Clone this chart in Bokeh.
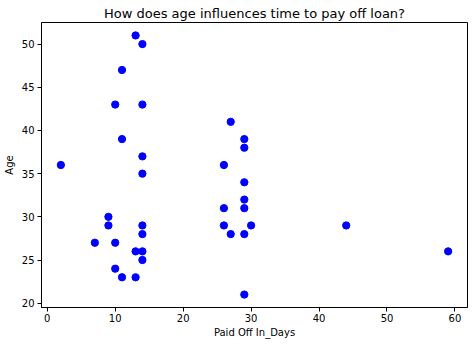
from bokeh.plotting import figure
from bokeh.models import Range1d, FixedTicker, ColumnDataSource
from bokeh.embed import file_html
from bokeh.resources import INLINE

paid_off_days = [2, 7, 9, 9, 10, 10, 10, 11, 11, 11, 13, 13, 13,
                 14, 14, 14, 14, 14, 14, 14, 14,
                 26, 26, 26, 27, 27,
                 29, 29, 29, 29, 29, 29, 29, 30, 44, 59]
age = [36, 27, 30, 29, 43, 27, 24, 47, 39, 23, 51, 26, 23,
       50, 43, 37, 35, 29, 28, 26, 25,
       36, 31, 29, 41, 28,
       39, 38, 34, 32, 31, 28, 21, 29, 29, 26]
x_ticks = [0, 10, 20, 30, 40, 50, 60]
y_ticks = [20, 25, 30, 35, 40, 45, 50]

src = ColumnDataSource(dict(x=paid_off_days, y=age))

FONT = "DejaVu Sans"
p = figure(width=474, height=345, output_backend="svg", toolbar_location=None,
           x_range=Range1d(-0.85, 61.85), y_range=Range1d(19.5, 52.5),
           title="How does age influences time to pay off loan?",
           min_border_left=41, min_border_right=7, min_border_top=22, min_border_bottom=38)
p.scatter("x", "y", source=src, size=7.3, color="#0000ff", line_color="#0000ff")

p.title.align = "center"
p.title.text_font = FONT
p.title.text_font_size = "13px"
p.title.text_font_style = "normal"
p.title.text_color = "black"
p.title.standoff = 4

p.xgrid.visible = False
p.ygrid.visible = False
p.outline_line_color = "black"
p.outline_line_width = 1
p.background_fill_color = "white"
p.border_fill_color = "white"

p.xaxis.ticker = FixedTicker(ticks=x_ticks)
p.yaxis.ticker = FixedTicker(ticks=y_ticks)
p.xaxis.axis_label = "Paid Off In_Days"
p.yaxis.axis_label = "Age"
for ax in (p.xaxis[0], p.yaxis[0]):
    ax.axis_label_text_font = FONT
    ax.axis_label_text_font_size = "10px"
    ax.axis_label_text_font_style = "normal"
    ax.axis_label_text_color = "black"
    ax.major_label_text_font = FONT
    ax.major_label_text_font_size = "10px"
    ax.major_label_text_color = "black"
    ax.major_tick_in = 0
    ax.major_tick_out = 4
    ax.minor_tick_line_color = None
    ax.axis_line_color = "black"
    ax.major_tick_line_color = "black"
    ax.axis_label_standoff = 4
    ax.major_label_standoff = 3
p.xaxis[0].axis_label_standoff = 2
p.xaxis[0].major_label_standoff = 2

open("out.html", "w").write(file_html(p, INLINE))
